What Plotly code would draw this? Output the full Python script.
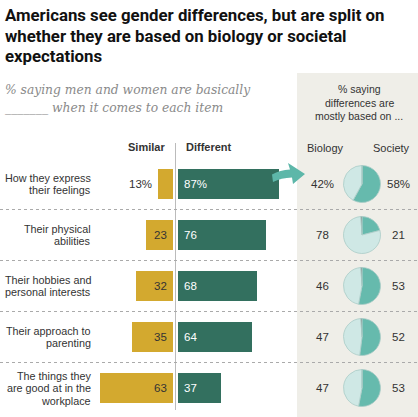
import plotly.graph_objects as go

# ---------------- data ----------------
items = [
    "How they express<br>their feelings",
    "Their physical<br>abilities",
    "Their hobbies and<br>personal interests",
    "Their approach to<br>parenting",
    "The things they<br>are good at in the<br>workplace",
]
similar = [13, 23, 32, 35, 63]
different = [87, 76, 68, 64, 37]
biology = [42, 78, 46, 47, 47]
society = [58, 21, 53, 52, 53]

title_lines = [
    "Americans see gender differences, but are split on",
    "whether they are based on biology or societal",
    "expectations",
]
subtitle_lines = ["% saying men and women are basically", "_______ when it comes to each item"]
panel_lines = ["% saying", "differences are", "mostly based on ..."]

# ---------------- style ----------------
W, H = 418, 417
PXU = 1.16          # pixels per percentage point
ZERO_PX = 175.5
GAP = 2.5 / PXU
ROW0_PX = 184
ROW_STEP = 51
GOLD = "#D3A92F"
TEAL = "#33705F"
PIE_DARK = "#66BAAD"
PIE_LIGHT = "#CFE8E5"
PANEL = "#EFEEE8"
TXT = "#333333"
FONT = "Liberation Sans"

def xp(px):
    return px / W

def yp(py):
    return 1 - py / H

def row_px(i):
    return ROW0_PX + ROW_STEP * i

fig = go.Figure()
rows = list(range(len(items)))

fig.add_trace(go.Bar(orientation="h", y=rows, x=[-v for v in similar], base=-GAP,
                     width=0.6, marker=dict(color=GOLD, line=dict(width=0)),
                     hoverinfo="skip", showlegend=False))
fig.add_trace(go.Bar(orientation="h", y=rows, x=different, base=GAP,
                     width=0.6, marker=dict(color=TEAL, line=dict(width=0)),
                     hoverinfo="skip", showlegend=False))

R = 18.5
for i in rows:
    rem = max(0, 100 - biology[i] - society[i])
    cy = row_px(i)
    fig.add_trace(go.Pie(values=[society[i], biology[i], rem], sort=False,
                         direction="clockwise", rotation=0, textinfo="none",
                         marker=dict(colors=[PIE_DARK, PIE_LIGHT, "#777777"],
                                     line=dict(color="#A9CCC6", width=0.8)),
                         domain=dict(x=[xp(362 - R), xp(362 + R)], y=[yp(cy + R), yp(cy - R)]),
                         showlegend=False, hoverinfo="skip"))

ann = []
# title
for k, t in enumerate(title_lines):
    ann.append(dict(text=t, x=xp(3), y=yp(15 + 20.5 * k), xref="paper", yref="paper",
                    xanchor="left", yanchor="middle", showarrow=False,
                    font=dict(family="Roboto", size=16.8, color="#111111", weight="bold")))
for k, t in enumerate(subtitle_lines):
    ann.append(dict(text="<i>" + t + "</i>", x=xp(3), y=yp(90 + 18 * k), xref="paper", yref="paper",
                    xanchor="left", yanchor="middle", showarrow=False,
                    font=dict(family="DejaVu Serif", size=12.3, color="#8A8A8A")))
for k, t in enumerate(panel_lines):
    ann.append(dict(text=t, x=xp(359), y=yp(89 + 13.5 * k), xref="paper", yref="paper",
                    xanchor="center", yanchor="middle", showarrow=False,
                    font=dict(family=FONT, size=10.5, color=TXT)))
# column headers
ann.append(dict(text="<b>Similar</b>", x=xp(167), y=yp(147), xref="paper", yref="paper",
                xanchor="right", yanchor="middle", showarrow=False, font=dict(family=FONT, size=11, color=TXT)))
ann.append(dict(text="<b>Different</b>", x=xp(184), y=yp(147), xref="paper", yref="paper",
                xanchor="left", yanchor="middle", showarrow=False, font=dict(family=FONT, size=11, color=TXT)))
ann.append(dict(text="Biology", x=xp(325), y=yp(148), xref="paper", yref="paper",
                xanchor="center", yanchor="middle", showarrow=False, font=dict(family=FONT, size=11, color=TXT)))
ann.append(dict(text="Society", x=xp(391), y=yp(148), xref="paper", yref="paper",
                xanchor="center", yanchor="middle", showarrow=False, font=dict(family=FONT, size=11, color=TXT)))

for i in rows:
    lines = items[i].split("<br>")
    n = len(lines)
    for k, t in enumerate(lines):
        ann.append(dict(text=t, x=xp(93), y=i, xref="paper", yref="y", xanchor="right",
                        yanchor="middle", yshift=-(k - (n - 1) / 2) * 12.5, showarrow=False,
                        font=dict(family=FONT, size=10.8, color=TXT)))
    suffix = "%" if i == 0 else ""
    if similar[i] < 18:
        ann.append(dict(text=f"{similar[i]}{suffix}", x=-GAP - similar[i], y=i, xref="x", yref="y",
                        xanchor="right", yanchor="middle", xshift=-4, showarrow=False,
                        font=dict(family=FONT, size=11.5, color=TXT)))
    else:
        ann.append(dict(text=f"{similar[i]}{suffix}", x=-GAP, y=i, xref="x", yref="y",
                        xanchor="right", yanchor="middle", xshift=-4, showarrow=False,
                        font=dict(family=FONT, size=11.5, color=TXT)))
    ann.append(dict(text=f"{different[i]}{suffix}", x=GAP, y=i, xref="x", yref="y",
                    xanchor="left", yanchor="middle", xshift=4, showarrow=False,
                    font=dict(family=FONT, size=11.5, color="#FFFFFF")))
    ann.append(dict(text=f"{biology[i]}{suffix}", x=xp(322), y=i, xref="paper", yref="y",
                    xanchor="center", yanchor="middle", showarrow=False,
                    font=dict(family=FONT, size=11.5, color=TXT)))
    ann.append(dict(text=f"{society[i]}{suffix}", x=xp(398), y=i, xref="paper", yref="y",
                    xanchor="center", yanchor="middle", showarrow=False,
                    font=dict(family=FONT, size=11.5, color=TXT)))

# curved arrow (decoration) from first bar to first pie
arrow_pts = [("M", 272, 174.5), ("Q", 280, 170, 290, 169.5), ("L", 288, 163), ("L", 305, 174),
             ("L", 293, 184), ("L", 292, 177.5), ("Q", 281, 178, 273, 182)]
parts = []
for p in arrow_pts:
    cmd, coords = p[0], p[1:]
    xy = " ".join(f"{xp(coords[j]):.5f},{yp(coords[j + 1]):.5f}" for j in range(0, len(coords), 2))
    parts.append(f"{cmd} {xy}")
arrow_path = " ".join(parts) + " Z"

shapes = [
    dict(type="rect", xref="paper", yref="paper", x0=xp(297), x1=1, y0=0, y1=yp(73),
         fillcolor=PANEL, line=dict(width=0), layer="below"),
    dict(type="line", xref="x", yref="paper", x0=0, x1=0, y0=yp(143), y1=yp(410),
         line=dict(color="#BBBBBB", width=1), layer="below"),
    dict(type="path", xref="paper", yref="paper", path=arrow_path,
         fillcolor="#5DB7A9", line=dict(width=0), layer="above"),
]
for i in rows[:-1]:
    shapes.append(dict(type="line", xref="paper", yref="y", x0=0, x1=1, y0=i + 0.5, y1=i + 0.5,
                       line=dict(color="#AAAAAA", width=1, dash="dot")))

fig.update_layout(
    width=W, height=H, margin=dict(l=0, r=0, t=0, b=0),
    paper_bgcolor="white", plot_bgcolor="rgba(0,0,0,0)",
    barmode="overlay", bargap=0,
    xaxis=dict(range=[-ZERO_PX / PXU, (W - ZERO_PX) / PXU], visible=False, fixedrange=True),
    yaxis=dict(range=[(H - ROW0_PX) / ROW_STEP, -ROW0_PX / ROW_STEP], visible=False, fixedrange=True),
    annotations=ann, shapes=shapes, showlegend=False,
)

fig.write_html("out.html", config={"displayModeBar": False},
               post_script="document.body.style.margin='0';document.body.style.padding='0';document.body.style.overflow='hidden';")
